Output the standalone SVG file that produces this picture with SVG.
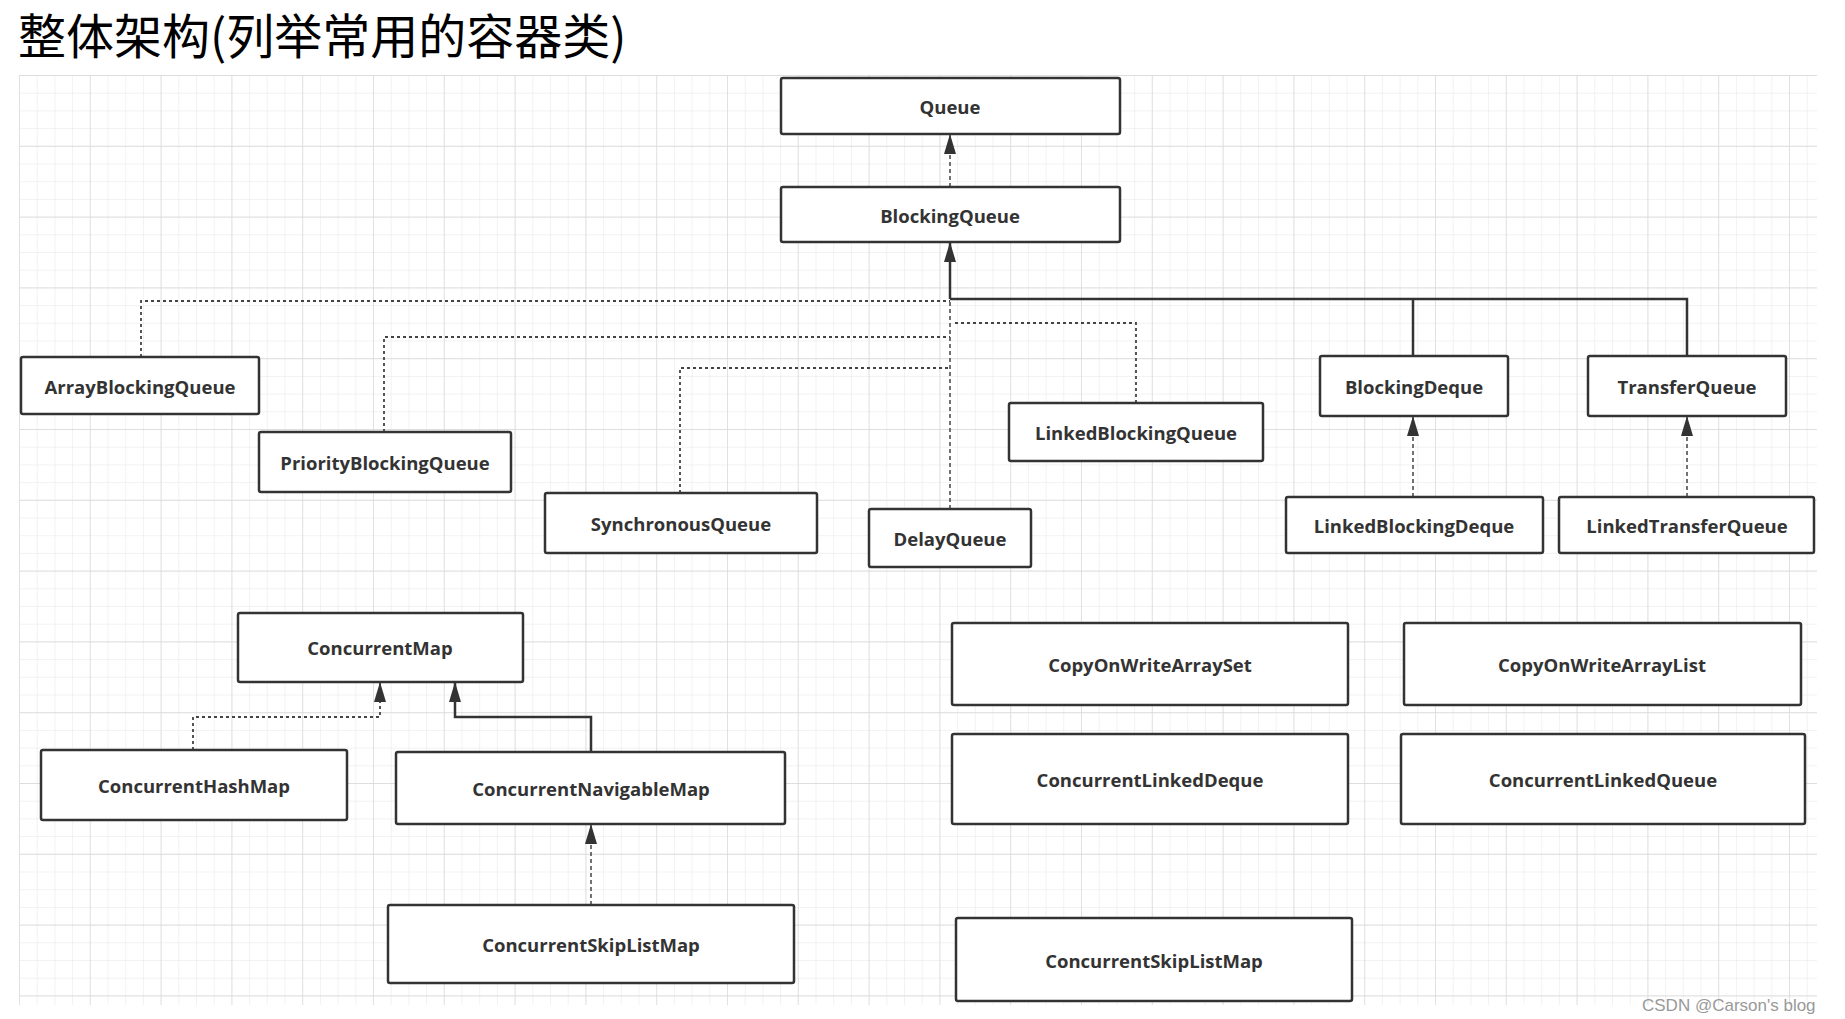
<svg xmlns="http://www.w3.org/2000/svg" width="1845" height="1019" viewBox="0 0 1845 1019">
<defs>
<pattern id="g" x="19" y="75" width="17.7" height="17.7" patternUnits="userSpaceOnUse"><path d="M0 0H17.7M0 0V17.7" stroke="#e6e6e6" stroke-width="1" fill="none"/></pattern>
<pattern id="G" x="19" y="75" width="70.8" height="70.8" patternUnits="userSpaceOnUse"><path d="M0 0H70.8M0 0V70.8" stroke="#d8d8d8" stroke-width="1.3" fill="none"/></pattern>
<marker id="a" viewBox="0 0 20 12" refX="20" refY="6" markerWidth="20" markerHeight="12" markerUnits="userSpaceOnUse" orient="auto"><path d="M0 0L20 6L0 12z" fill="#333"/></marker>
</defs>
<style>
.b{fill:#fff;stroke:#333;stroke-width:2.5}
.t{font-family:"Open Sans","DejaVu Sans",sans-serif;font-weight:bold;font-size:18.5px;fill:#333;text-anchor:middle;dominant-baseline:central}
.s{fill:none;stroke:#333;stroke-width:2.5}
.d{fill:none;stroke:#444;stroke-width:1.8;stroke-dasharray:3 3}
.dv{fill:none;stroke:#444;stroke-width:1.5;stroke-dasharray:4 3}
</style>
<rect width="1845" height="1019" fill="#fff"/>
<rect x="19" y="75" width="1798" height="930" fill="url(#g)"/>
<rect x="19" y="75" width="1798" height="930" fill="url(#G)"/>
<text x="18" y="54" font-family="'Noto Sans CJK SC',sans-serif" font-size="48" fill="#000">整体架构(列举常用的容器类)</text>
<g id="connectors">
<path class="dv" d="M950 187V134" marker-end="url(#a)" stroke="#a55"/>
<path class="s" d="M950 299V242" marker-end="url(#a)"/>
<path class="s" d="M950 299H1687V356M1413 299V356"/>
<path class="d" d="M141 357V301H950"/>
<path class="d" d="M384 432V337H950"/>
<path class="d" d="M680 493V368H950"/>
<path class="dv" d="M950 509V300"/>
<path class="d" d="M1136 403V323H952"/>
<path class="dv" d="M1413 497V416" marker-end="url(#a)"/>
<path class="dv" d="M1687 497V416" marker-end="url(#a)"/>
<path class="d" d="M193 750V717H380V682" marker-end="url(#a)"/>
<path class="s" d="M591 752V717H455V682" marker-end="url(#a)"/>
<path class="dv" d="M591 905V824" marker-end="url(#a)"/>
</g>
<g id="n1"><rect class="b" x="781" y="78" width="339" height="56" rx="2"/><text class="t" x="950" y="106">Queue</text></g>
<g id="n2"><rect class="b" x="781" y="187" width="339" height="55" rx="2"/><text class="t" x="950" y="215">BlockingQueue</text></g>
<g id="n3"><rect class="b" x="21" y="357" width="238" height="57" rx="2"/><text class="t" x="140" y="386">ArrayBlockingQueue</text></g>
<g id="n4"><rect class="b" x="259" y="432" width="252" height="60" rx="2"/><text class="t" x="385" y="462">PriorityBlockingQueue</text></g>
<g id="n5"><rect class="b" x="545" y="493" width="272" height="60" rx="2"/><text class="t" x="681" y="523">SynchronousQueue</text></g>
<g id="n6"><rect class="b" x="869" y="509" width="162" height="58" rx="2"/><text class="t" x="950" y="538">DelayQueue</text></g>
<g id="n7"><rect class="b" x="1009" y="403" width="254" height="58" rx="2"/><text class="t" x="1136" y="432">LinkedBlockingQueue</text></g>
<g id="n8"><rect class="b" x="1320" y="356" width="188" height="60" rx="2"/><text class="t" x="1414" y="386">BlockingDeque</text></g>
<g id="n9"><rect class="b" x="1588" y="356" width="198" height="60" rx="2"/><text class="t" x="1687" y="386">TransferQueue</text></g>
<g id="n10"><rect class="b" x="1286" y="497" width="257" height="56" rx="2"/><text class="t" x="1414" y="525">LinkedBlockingDeque</text></g>
<g id="n11"><rect class="b" x="1559" y="497" width="255" height="56" rx="2"/><text class="t" x="1687" y="525">LinkedTransferQueue</text></g>
<g id="n12"><rect class="b" x="238" y="613" width="285" height="69" rx="2"/><text class="t" x="380" y="647">ConcurrentMap</text></g>
<g id="n13"><rect class="b" x="41" y="750" width="306" height="70" rx="2"/><text class="t" x="194" y="785">ConcurrentHashMap</text></g>
<g id="n14"><rect class="b" x="396" y="752" width="389" height="72" rx="2"/><text class="t" x="591" y="788">ConcurrentNavigableMap</text></g>
<g id="n15"><rect class="b" x="388" y="905" width="406" height="78" rx="2"/><text class="t" x="591" y="944">ConcurrentSkipListMap</text></g>
<g id="n16"><rect class="b" x="952" y="623" width="396" height="82" rx="2"/><text class="t" x="1150" y="664">CopyOnWriteArraySet</text></g>
<g id="n17"><rect class="b" x="1404" y="623" width="397" height="82" rx="2"/><text class="t" x="1602" y="664">CopyOnWriteArrayList</text></g>
<g id="n18"><rect class="b" x="952" y="734" width="396" height="90" rx="2"/><text class="t" x="1150" y="779">ConcurrentLinkedDeque</text></g>
<g id="n19"><rect class="b" x="1401" y="734" width="404" height="90" rx="2"/><text class="t" x="1603" y="779">ConcurrentLinkedQueue</text></g>
<g id="n20"><rect class="b" x="956" y="918" width="396" height="83" rx="2"/><text class="t" x="1154" y="960">ConcurrentSkipListMap</text></g>
<text x="1642" y="1011" font-family="'Liberation Sans',sans-serif" font-size="17" fill="#999">CSDN @Carson's  blog</text>
</svg>
